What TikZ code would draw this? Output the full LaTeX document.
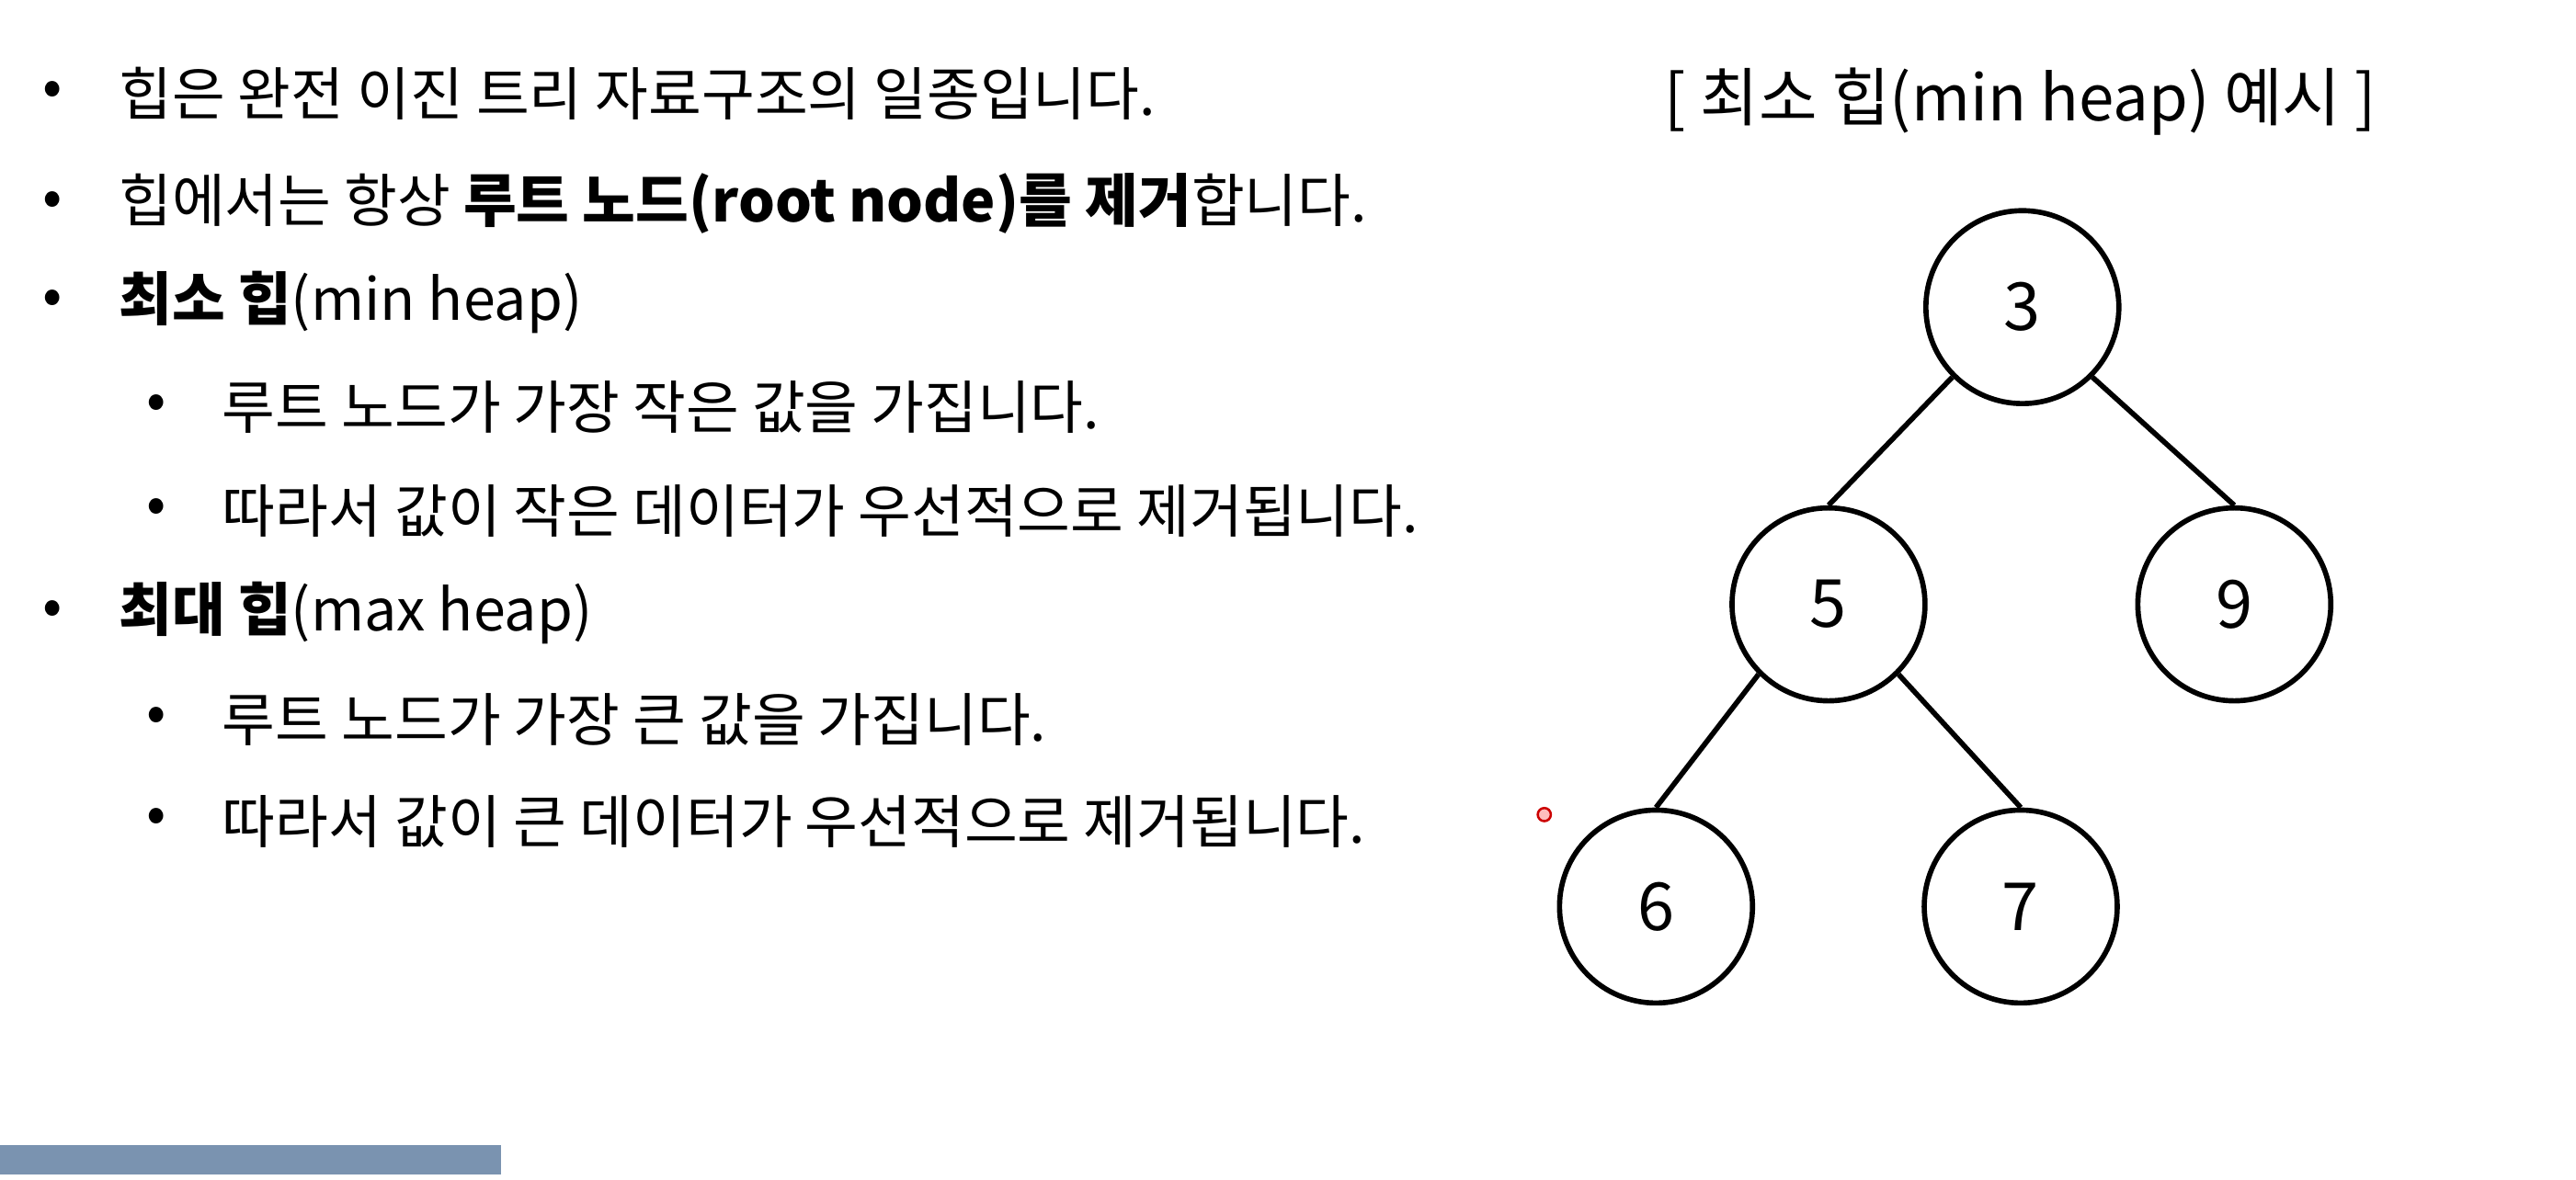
\documentclass[tikz,border=0pt]{standalone}
\usepackage{fontspec}
\setmainfont{Noto Sans CJK KR}
\begin{document}
\begin{tikzpicture}[x=0.02cm,y=-0.02cm,
  txt/.style={anchor=west,inner sep=0pt,font=\fontsize{20}{24}\selectfont},
  bul/.style={inner sep=0pt,font=\fontsize{20}{24}\selectfont},
  hn/.style={circle,draw,line width=1.8pt,minimum size=2.35cm,inner sep=0pt,font=\fontsize{23}{26}\selectfont},
  edge/.style={line width=1.8pt}]
\useasboundingbox[fill=white] (0,0) rectangle (1568,718);
\foreach \y in {57,124,184,373} \node[bul] at (32,\y) {•};
\foreach \y in {248,311,438,500} \node[bul] at (95,\y) {•};
\node[txt] (l1) at (72,57) {힙은 완전 이진 트리 자료구조의 일종입니다.};
\node[txt] (l2) at (72,124) {힙에서는 항상 \textbf{루트 노드(root node)를 제거}합니다.};
\node[txt] (l3) at (72,184) {\textbf{최소 힙}(min heap)};
\node[txt] (l4) at (135,248) {루트 노드가 가장 작은 값을 가집니다.};
\node[txt] (l5) at (135,311) {따라서 값이 작은 데이터가 우선적으로 제거됩니다.};
\node[txt] (l6) at (72,373) {\textbf{최대 힙}(max heap)};
\node[txt] (l7) at (135,438) {루트 노드가 가장 큰 값을 가집니다.};
\node[txt] (l8) at (135,500) {따라서 값이 큰 데이터가 우선적으로 제거됩니다.};
\node[inner sep=0pt,font=\fontsize{22}{26}\selectfont] (title) at (1230,62) {[ 최소 힙(min heap) 예시 ]};
\node[hn] (n3) at (1231,187) {3};
\node[hn] (n5) at (1113,368) {5};
\node[hn] (n9) at (1360,368) {9};
\node[hn] (n6) at (1008,552) {6};
\node[hn] (n7) at (1230,552) {7};
\draw[edge] (n3.south west) -- (n5.north);
\draw[edge] (n3.south east) -- (n9.north);
\draw[edge] (n5.south west) -- (n6.north);
\draw[edge] (n5.south east) -- (n7.north);
\draw[red!80!black,fill=red!25,line width=0.8pt] (940,496) circle (4);
\fill[fill={rgb,255:red,122;green,147;blue,176}] (0,697) rectangle (305,715);
\end{tikzpicture}
\end{document}
